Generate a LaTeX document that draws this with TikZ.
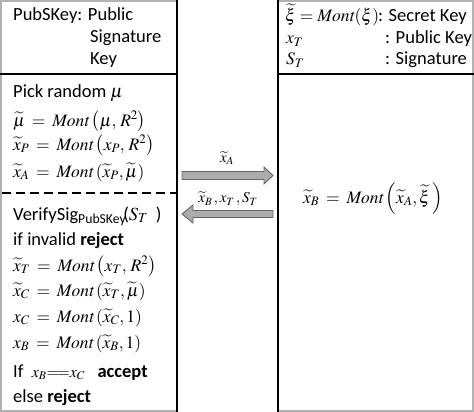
\documentclass[tikz,border=0pt]{standalone}
\usepackage{mathptmx}
\usepackage[no-math]{fontspec}
\setmainfont{Carlito}
\thickmuskip=7mu plus 4mu
\begin{document}
\begin{tikzpicture}[x=1pt,y=-1pt,
  txt/.style={anchor=base west, inner sep=0pt, font=\fontsize{18.5}{22}\selectfont},
  mth/.style={anchor=base west, inner sep=0pt, font=\fontsize{17.5}{20}\selectfont},
  lbl/.style={inner sep=0pt, font=\fontsize{15}{16}\selectfont},
  frameline/.style={draw=gray!60, line width=1.6pt},
  rule/.style={draw=black, line width=1.6pt},
  dashrule/.style={draw=black, line width=1.2pt, dash pattern=on 9pt off 5pt},
  blockarrow/.style={draw=gray!80!black, fill=gray!65, line width=0.9pt, line join=miter}]
\useasboundingbox (0,0) rectangle (474,412);
% frames
\draw[frameline] (177,0.8) -- (0.8,0.8) -- (0.8,411.2) -- (177,411.2);
\draw[frameline] (278,0.8) -- (473.2,0.8) -- (473.2,411.2) -- (278,411.2);
\draw[rule] (0,74) -- (177,74);
\draw[rule] (278,74) -- (474,74);
\draw[dashrule] (2,193) -- (177,193);
\draw[rule] (177,0) -- (177,412);
\draw[rule] (278,0) -- (278,412);
% left top
\node[txt] (pk1) at (13,21) {PubSKey: Public};
\node[txt] (pk2) at (90,43) {Signature};
\node[txt] (pk3) at (90,65) {Key};
% right top
\node[mth] (sk) at (285,22) {\thickmuskip=4mu$\widetilde{\xi}=\mathit{Mont}(\xi)$};
\node[txt] (skl) at (378,22) {: Secret Key};
\node[mth] (xt) at (286,44) {$x_T$};
\node[txt] (xtl) at (385,44) {: Public Key};
\node[mth] (st) at (286,65) {$S_T$};
\node[txt] (stl) at (385,65) {: Signature};
% left middle
\node[txt] (pick) at (13,97) {Pick random $\mu$};
\node[mth] (m1) at (13,126) {$\widetilde{\mu}=\mathit{Mont}\left(\mu,\,R^2\right)$};
\node[mth] (m2) at (13,150) {$\widetilde{x}_P=\mathit{Mont}\left(x_P,\,R^2\right)$};
\node[mth] (m3) at (13,177) {$\widetilde{x}_A=\mathit{Mont}\left(\widetilde{x}_P,\widetilde{\mu}\right)$};
% left bottom
\node[txt] (ver) at (13,220) {VerifySig\textsubscript{PubSKey}\kern-3pt($S_T$\hspace{8pt})};
\node[txt] (inv) at (13,245) {if invalid \textbf{reject}};
\node[mth] (m4) at (13,271) {$\widetilde{x}_T=\mathit{Mont}\left(x_T,\,R^2\right)$};
\node[mth] (m5) at (13,296) {$\widetilde{x}_C=\mathit{Mont}\left(\widetilde{x}_T,\widetilde{\mu}\right)$};
\node[mth] (m6) at (13,322) {$x_C=\mathit{Mont}\left(\widetilde{x}_C,1\right)$};
\node[mth] (m7) at (13,348) {$x_B=\mathit{Mont}\left(\widetilde{x}_B,1\right)$};
\node[txt] (acc) at (13,377) {If \ {\fontsize{16}{20}\selectfont\thickmuskip=2mu$x_B\!=\!=\!x_C$}\ \ \ \textbf{accept}};
\node[txt] (rej) at (13,402) {else \textbf{reject}};
% right middle
\node[mth] (xb) at (303,203) {$\widetilde{x}_B=\mathit{Mont}\left(\widetilde{x}_A,\widetilde{\xi}\,\right)$};
% arrows
\coordinate (a1s) at (182,175.5);
\coordinate (a1e) at (273,175.5);
\coordinate (a2s) at (273,214);
\coordinate (a2e) at (182,214);
\filldraw[blockarrow] (a1s) ++(0,-4) -- ++(82,0) -- ++(0,-4.5) -- (a1e) -- ++(-9,8.5) -- ++(0,-4.5) -- ++(-82,0) -- cycle;
\filldraw[blockarrow] (a2s) ++(0,-3.5) -- ++(-80,0) -- ++(0,-5.5) -- (a2e) -- ++(11,9) -- ++(0,-5.5) -- ++(80,0) -- cycle;
\node[lbl] (l1) at (227,158) {$\widetilde{x}_A$};
\node[lbl] (l2) at (228,199) {$\widetilde{x}_B\,,x_T\,,S_T$};
\end{tikzpicture}
\end{document}
